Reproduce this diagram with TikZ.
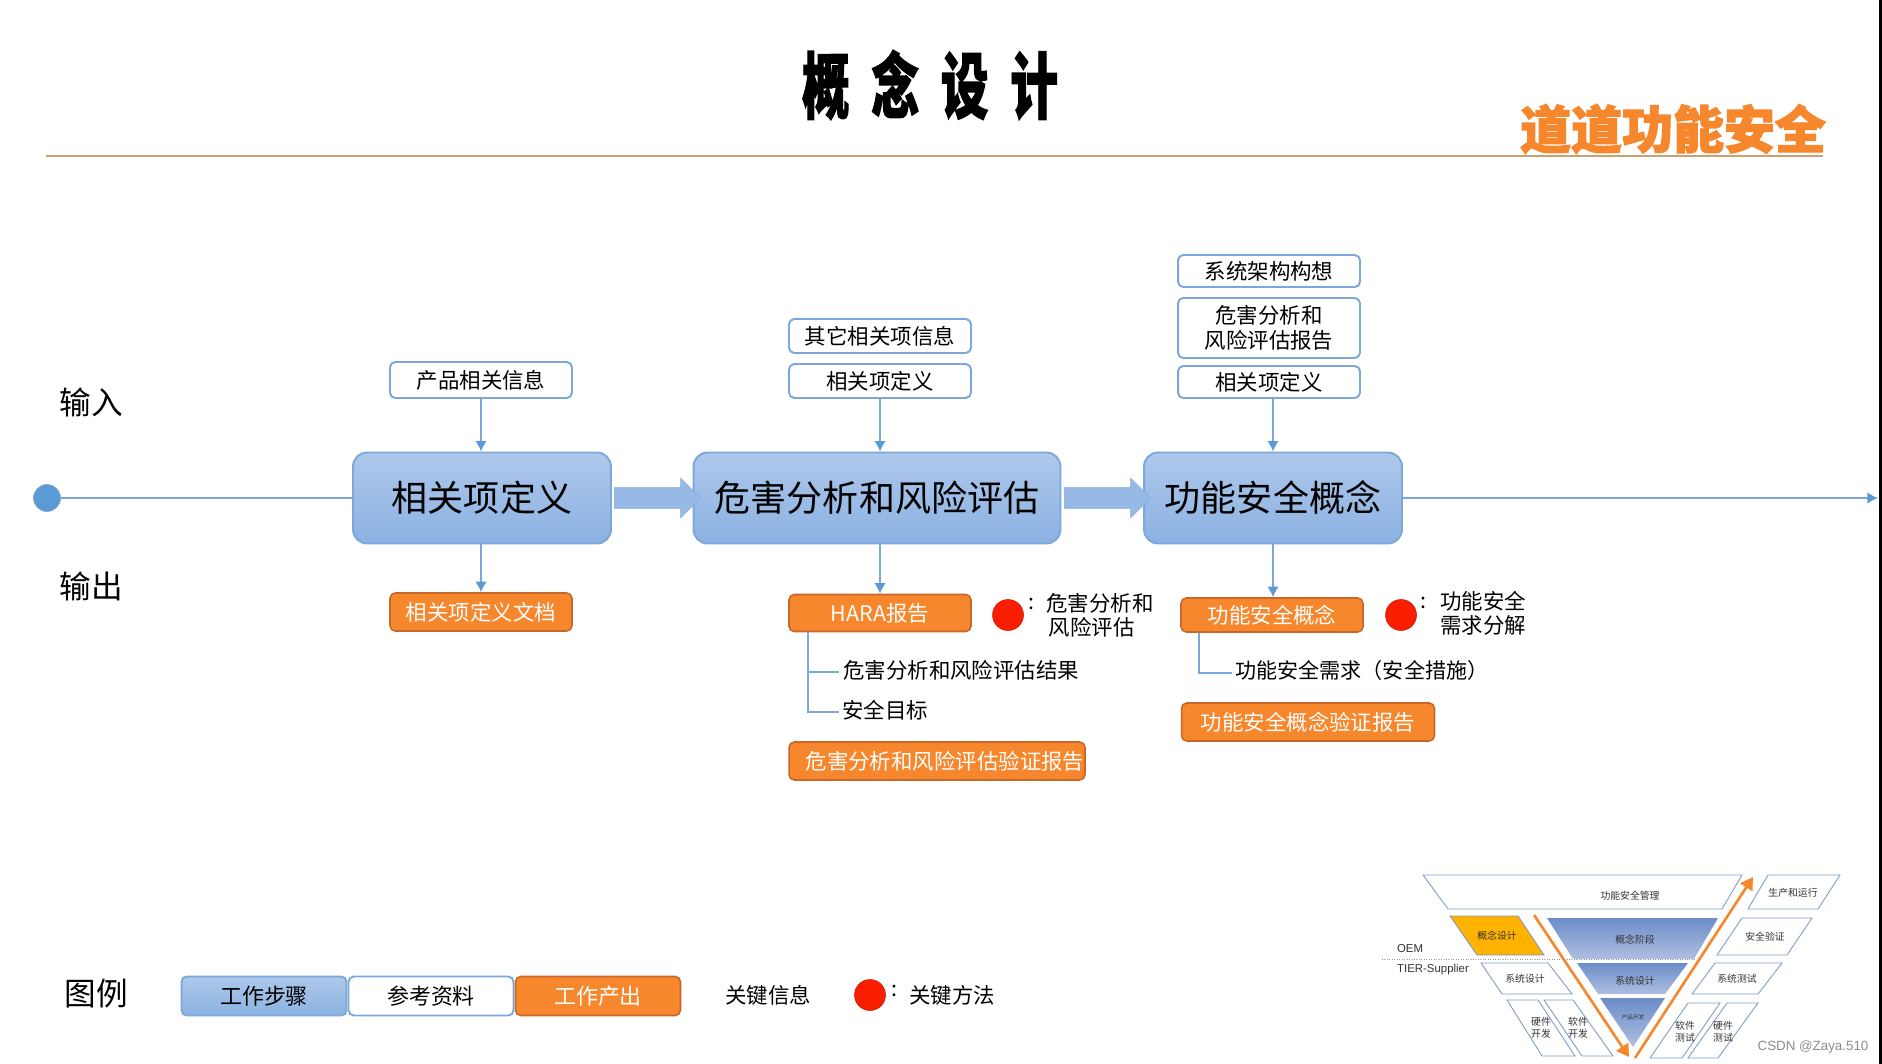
\documentclass[tikz,border=0pt]{standalone}
\usepackage{fontspec}
\usepackage{tikz}
\usetikzlibrary{shapes.arrows,calc,arrows.meta}
\setmainfont{Noto Sans CJK SC}
\newfontfamily\brandfont[BoldFeatures={FakeBold=2.5}]{Noto Sans CJK SC}
\newfontfamily\titlefont[BoldFeatures={FakeBold=2}]{Noto Sans CJK SC}
\newfontfamily\latinfont{Liberation Sans}
\definecolor{stepblue}{HTML}{8BB1E2}
\definecolor{stepedge}{HTML}{7BA7DA}
\definecolor{tipblue}{HTML}{5B9BD5}
\definecolor{outorange}{HTML}{F6872D}
\definecolor{outedge}{HTML}{C8672A}
\definecolor{keyred}{HTML}{FA1E00}
\definecolor{rulebrown}{HTML}{C8A274}
\definecolor{vblue}{HTML}{6C8CC8}
\definecolor{vedge}{HTML}{7F9CC8}
\tikzset{
  bigstep/.style={draw=stepedge, line width=1.1pt, rounded corners=8pt, top color=stepblue!70!white, bottom color=stepblue, text=black, font=\fontsize{20.5}{25}\selectfont, minimum width=5.16cm, minimum height=1.82cm, inner sep=0pt},
  refbox/.style={draw=stepedge, line width=1.1pt, rounded corners=3pt, fill=white, text=black, font=\fontsize{12.2}{14.5}\selectfont, align=center, minimum width=3.64cm, inner sep=0pt},
  outbox/.style={draw=outedge, line width=.9pt, rounded corners=3pt, fill=outorange, text=white, font=\fontsize{12.2}{15}\selectfont, inner sep=0pt},
  plaintext/.style={text=black, font=\fontsize{12.2}{13.8}\selectfont, align=left, inner sep=0pt},
  bigtext/.style={text=black, font=\fontsize{18}{22}\selectfont, inner sep=0pt},
  keydot/.style={circle, fill=keyred, draw=keyred!80!black, line width=.3pt, minimum size=.62cm, inner sep=0pt},
  flow/.style={draw=stepedge, line width=.9pt, -{Latex[length=6pt,width=6.5pt,color=tipblue]}},
  stem/.style={draw=stepedge, line width=.9pt},
  bigarrow/.style={single arrow, fill=stepblue!90!white, draw=stepedge!60!stepblue, line width=.3pt, single arrow head extend=.19cm, minimum height=1.72cm, inner xsep=0pt, inner ysep=.2cm, single arrow head indent=0pt},
  vbox/.style={draw=vedge, line width=.5pt, fill=white},
  vtext/.style={text=black!80, font=\fontsize{5.6}{6.6}\selectfont, align=center, inner sep=0pt},
  vorange/.style={draw=outorange, line width=1.5pt, -{Triangle[length=7pt,width=8pt]}}
}
\begin{document}
\begin{tikzpicture}[x=0.02cm, y=-0.02cm]
  \useasboundingbox (0,0) rectangle (1882,1064);

  \node[font=\fontsize{41}{44}\selectfont\titlefont\bfseries, xscale=.66, inner sep=0pt] (title) at (930,85) {概\hspace{.46em}念\hspace{.46em}设\hspace{.46em}计};
  \node[font=\fontsize{29}{32}\selectfont\brandfont\bfseries, text=outorange, inner sep=0pt] (brand) at (1673,129) {道道功能安全};
  \coordinate (ruleleft) at (46,156);
  \coordinate (ruleright) at (1823,156);
  \draw[draw=rulebrown, line width=1pt] (ruleleft) -- (ruleright);

  \node[bigtext] (intext) at (91,402) {输入};
  \node[bigtext] (outtext) at (91,586) {输出};

  \node[circle, fill=tipblue, draw=stepedge, minimum size=.54cm, inner sep=0pt] (start) at (47,498) {};
  \node[bigstep] (item) at (482,498) {相关项定义};
  \node[bigstep, minimum width=7.34cm] (hara) at (877,498) {危害分析和风险评估};
  \node[bigstep] (fsc) at (1273,498) {功能安全概念};
  \coordinate (lineend) at (1878,498);
  \draw[stem] (start) -- (item);
  \draw[flow] (fsc) -- (lineend);
  \node[bigarrow] at ($(item.east)!.5!(hara.west)$) (arrowa) {};
  \node[bigarrow] at ($(hara.east)!.5!(fsc.west)$) (arrowb) {};

  \node[refbox, minimum height=.72cm] (itemin) at (481,380) {产品相关信息};
  \node[refbox, minimum height=.68cm] (harainb) at (880,381) {相关项定义};
  \node[refbox, minimum height=.68cm] (harain) at (880,336) {其它相关项信息};
  \node[refbox, minimum height=.64cm] (fscinc) at (1269,382) {相关项定义};
  \node[refbox, minimum height=1.2cm] (fscinb) at (1269,328) {危害分析和\\风险评估报告};
  \node[refbox, minimum height=.64cm] (fscina) at (1269,271) {系统架构构想};

  \node[outbox, minimum width=3.64cm, minimum height=.76cm] (itemout) at (481,612) {相关项定义文档};
  \node[outbox, minimum width=3.64cm, minimum height=.74cm] (haraout) at (880,613) {HARA报告};
  \node[outbox, minimum width=5.92cm, minimum height=.76cm] (haraver) at (937,761) {\hspace*{.32cm}危害分析和风险评估验证报告};
  \node[outbox, minimum width=3.64cm, minimum height=.68cm] (fscout) at (1272,615) {功能安全概念};
  \node[outbox, minimum width=5.06cm, minimum height=.76cm] (fscver) at (1308,722) {功能安全概念验证报告};

  \draw[flow] (itemin) -- (itemin |- item.north);
  \draw[flow] (item.south -| itemout) -- (itemout);
  \draw[flow] (harainb) -- (harainb |- hara.north);
  \draw[flow] (hara.south -| haraout) -- (haraout);
  \draw[flow] (fscinc.south -| fsc.north) -- (fsc.north);
  \draw[flow] (fsc.south) -- (fsc.south |- fscout.north);

  \node[keydot] (haradot) at (1008,615) {};
  \node[plaintext] (haracolon) at (1031,604) {:};
  \node[plaintext] (haramethod) at (1100,615) {危害分析和\\\hspace*{.05cm}风险评估};
  \node[keydot] (fscdot) at (1401,615) {};
  \node[plaintext] (fsccolon) at (1423,603) {:};
  \node[plaintext] (fscmethod) at (1483,613) {功能安全\\需求分解};

  \node[plaintext, anchor=west] (harares) at (843,670) {危害分析和风险评估结果};
  \node[plaintext, anchor=west] (harasg) at (842,710) {安全目标};
  \node[plaintext, anchor=west, font=\fontsize{12}{14}\selectfont] (fscreq) at (1235,670) {功能安全需求（安全措施）};
  \coordinate (haratree) at ($(haraout.south west)+(20,0)$);
  \coordinate (fsctree) at ($(fscout.south west)+(19,0)$);
  \coordinate (haresend) at ($(harares.west)+(-4,2)$);
  \coordinate (hasgend) at ($(harasg.west)+(-3,2)$);
  \coordinate (fscend) at ($(fscreq.west)+(-3,3)$);
  \draw[stem] (haratree) |- (hasgend);
  \draw[stem] (haratree |- haresend) -- (haresend);
  \draw[stem] (fsctree) |- (fscend);

  \node[bigtext] (legendtext) at (96,994) {图例};
  \node[bigstep, font=\fontsize{12.5}{15}\selectfont, rounded corners=3pt, minimum width=3.3cm, minimum height=.78cm] (legendstep) at (264,996) {工作步骤};
  \node[refbox, font=\fontsize{12.5}{15}\selectfont, minimum width=3.3cm, minimum height=.78cm] (legendref) at (431,996) {参考资料};
  \node[outbox, font=\fontsize{12.5}{15}\selectfont, minimum width=3.3cm, minimum height=.78cm] (legendout) at (598,996) {工作产出};
  \node[plaintext] (legendinfo) at (768,995) {关键信息};
  \node[keydot] (legenddot) at (870,995) {};
  \node[plaintext] (legendcolon) at (894,991) {:};
  \node[plaintext] (legendmethod) at (952,995) {关键方法};

  \draw[vbox] (1423,875) -- (1742,875) -- (1722,909) -- (1448,909) -- cycle;
  \draw[vbox, fill=orange!60!yellow] (1450,916) -- (1518,916) -- (1544,955) -- (1477,955) -- cycle;
  \draw[vbox] (1481,963) -- (1548,963) -- (1572,994) -- (1502,994) -- cycle;
  \draw[vbox] (1507,1000) -- (1538,1000) -- (1575,1056) -- (1542,1056) -- cycle;
  \draw[vbox] (1544,1000) -- (1573,1000) -- (1613,1056) -- (1582,1056) -- cycle;
  \draw[vbox] (1768,875) -- (1840,875) -- (1818,909) -- (1748,909) -- cycle;
  \draw[vbox] (1742,918) -- (1812,918) -- (1787,955) -- (1717,955) -- cycle;
  \draw[vbox] (1715,963) -- (1782,963) -- (1758,994) -- (1692,994) -- cycle;
  \draw[vbox] (1688,1003) -- (1720,1003) -- (1682,1058) -- (1650,1058) -- cycle;
  \draw[vbox] (1727,1003) -- (1758,1003) -- (1718,1058) -- (1688,1058) -- cycle;
  \shade[top color=vblue, bottom color=vblue!55!white] (1547,918) -- (1718,918) -- (1694,959) -- (1573,959) -- cycle;
  \shade[top color=vblue, bottom color=vblue!55!white] (1577,963) -- (1688,963) -- (1665,994) -- (1598,994) -- cycle;
  \shade[top color=vblue, bottom color=vblue!55!white] (1600,998) -- (1665,998) -- (1633,1047) -- cycle;
  \draw[vorange] (1534,915) -- (1629,1057);
  \draw[vorange] (1635,1058) -- (1753,877);
  \draw[black!40, densely dotted, line width=.4pt] (1382,959) -- (1695,959);

  \node[vtext] (vmanage) at (1630,896) {功能安全管理};
  \node[vtext] (vconcept) at (1497,936) {概念设计};
  \node[vtext] (vsystem) at (1525,979) {系统设计};
  \node[vtext] (vhw) at (1541,1028) {硬件\\开发};
  \node[vtext] (vsw) at (1578,1028) {软件\\开发};
  \node[vtext] (vphase) at (1635,940) {概念阶段};
  \node[vtext] (vsysb) at (1635,981) {系统设计};
  \node[vtext, font=\fontsize{3.2}{4}\selectfont] (vprod) at (1633,1017) {产品开发};
  \node[vtext] (vops) at (1793,893) {生产和运行};
  \node[vtext] (vver) at (1765,937) {安全验证};
  \node[vtext] (vtest) at (1737,979) {系统测试};
  \node[vtext] (vswt) at (1685,1032) {软件\\测试};
  \node[vtext] (vhwt) at (1723,1032) {硬件\\测试};
  \node[vtext, font=\latinfont\fontsize{6.5}{8}\selectfont] (oem) at (1410,949) {OEM};
  \node[vtext, font=\latinfont\fontsize{6.5}{8}\selectfont] (tier) at (1433,970) {TIER-Supplier};
  \node[font=\latinfont\fontsize{7.6}{9}\selectfont, text=black!45, inner sep=0pt] (mark) at (1813,1047) {CSDN @Zaya.510};
  \fill[black] (1879,0) rectangle (1882,1064);
\end{tikzpicture}
\end{document}
